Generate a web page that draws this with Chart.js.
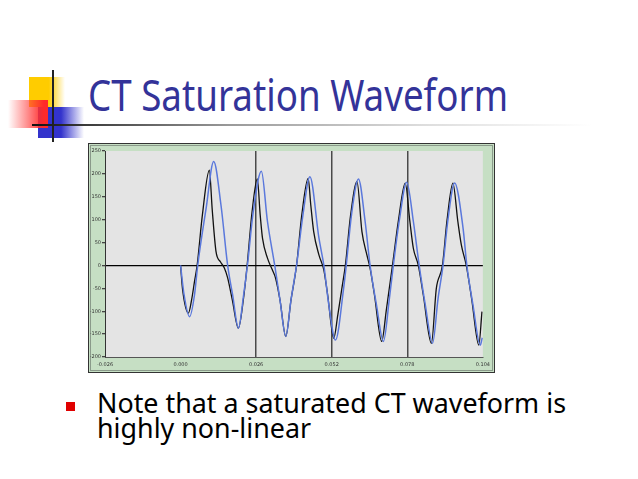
<!DOCTYPE html>
<html>
<head>
<meta charset="utf-8">
<script src="https://cdn.jsdelivr.net/npm/chart.js@4/dist/chart.umd.min.js"></script>
<style>
  body { margin: 0; background: #fff; width: 638px; height: 479px; position: relative; overflow: hidden; font-family: "Noto Sans", sans-serif; }
  .abs { position: absolute; }
  .txt { white-space: nowrap; line-height: 1; transform-origin: 0 0; display: inline-block; }
</style>
</head>
<body>
<!-- slide decoration -->
<div class="abs" style="left:29px;top:77px;width:36px;height:30px;background:linear-gradient(to right,#ffcc00 0%,#ffcc00 55%,rgba(255,204,0,0) 100%)"></div>
<div class="abs" style="left:38px;top:107px;width:46px;height:31px;background:linear-gradient(to right,#3333cc 0%,#3333cc 50%,rgba(51,51,204,0) 100%)"></div>
<div class="abs" style="left:8px;top:100px;width:40px;height:28px;background:linear-gradient(to right,rgba(255,90,90,0) 0%,rgba(255,60,60,0.6) 50%,#ff2a2a 90%)"></div>
<div class="abs" style="left:52px;top:70px;width:2px;height:72px;background:#222"></div>
<div class="abs" style="left:32px;top:124px;width:560px;height:2px;background:linear-gradient(to right,#111 0%,#444 12%,#999 35%,#ddd 70%,rgba(230,230,230,0) 100%)"></div>

<div id="title" class="abs txt" style="left:88px;top:72px;font-size:44px;color:#333399">CT Saturation Waveform</div>

<div class="abs" style="left:66px;top:402px;width:9px;height:9px;background:#e00000"></div>
<div id="b1" class="abs txt" style="left:97px;top:389px;font-size:27px;color:#000">Note that a saturated CT waveform is</div>
<div id="b2" class="abs txt" style="left:97px;top:414px;font-size:27px;color:#000">highly non-linear</div>

<canvas id="canvas1" width="407" height="230" style="position:absolute;left:88px;top:143px"></canvas>

<script>
const xTicks = [-0.026, 0, 0.026, 0.052, 0.078, 0.104]
const yMin = -200
const yMax = 250

// ideal (unsaturated) secondary current - blue
const blueT = [0, 0.0012, 0.0031, 0.0048, 0.0059, 0.0088, 0.0114, 0.0139, 0.0162, 0.0179,
  0.0199, 0.0217, 0.0230, 0.0250, 0.0278, 0.0299, 0.0324, 0.0342, 0.0362, 0.0380,
  0.0399, 0.0421, 0.0445, 0.0476, 0.0493, 0.0510, 0.0533, 0.0561, 0.0570, 0.0588,
  0.0612, 0.0635, 0.0652, 0.0674, 0.0698, 0.0718, 0.0732, 0.0753, 0.0778, 0.0801,
  0.0821, 0.0842, 0.0867, 0.0886, 0.0903, 0.0920, 0.0943, 0.0972, 0.0985, 0.1006,
  0.1031, 0.1038]
const blueI = [0, -64, -112, -64, 0, 125, 227, 132, 0, -64,
  -137, -64, 0, 117, 206, 96, 0, -75, -155, -75,
  0, 110, 194, 60, 0, -86, -163, -50, 0, 110,
  189, 96, 0, -86, -166, -75, 0, 100, 182, 96,
  0, -86, -170, -72, 0, 100, 180, 81, 0, -86,
  -174, -158]

// saturated CT secondary current - black
const blackT = [0, 0.0007, 0.0027, 0.0038, 0.0048, 0.0057,
  0.0075, 0.0099, 0.0109, 0.0122, 0.0137, 0.0151, 0.0162, 0.0178, 0.0199, 0.0216,
  0.0229, 0.0246, 0.0264, 0.0274, 0.0282, 0.0299, 0.0316, 0.0327, 0.0342, 0.0362,
  0.0380, 0.0399, 0.0417, 0.0439, 0.0448, 0.0458, 0.0476, 0.0493, 0.0506, 0.0527,
  0.0541, 0.0555, 0.0567, 0.0585, 0.0607, 0.0624, 0.0641, 0.0652, 0.0667, 0.0692,
  0.0708, 0.0729, 0.0750, 0.0773, 0.0789, 0.0801, 0.0818, 0.0835, 0.0863, 0.0880,
  0.0901, 0.0917, 0.0937, 0.0954, 0.0966, 0.0983, 0.1002, 0.1026, 0.1037]
const blackI = [0, -53, -104, -75, -35, 0,
  110, 208, 121, 30, 8, -6, -27, -75, -137, -75,
  0, 117, 189, 110, 59, 16, -10, -28, -75, -155,
  -75, 0, 110, 190, 132, 74, 23, -10, -64, -159,
  -108, -50, 0, 110, 183, 74, 23, -6, -64, -166,
  -97, 0, 100, 180, 96, 37, 0, -64, -170, -50,
  0, 100, 180, 96, 45, 0, -75, -174, -101]

// squeeze the text to the slide widths
const fit = (id, target) => {
  const el = document.getElementById(id)
  const w = el.getBoundingClientRect().width
  const s = target / w
  el.style.transform = 'scaleX(' + s + ')'
  return s
}
fit('title', 420)
const s = fit('b1', 469)
document.getElementById('b2').style.transform = 'scaleX(' + s + ')'

const pts = (t, v) => t.map((x, i) => ({ x, y: v[i] }))

const frame = {
  id: 'frame',
  beforeDraw(chart) {
    const c = chart.ctx
    const a = chart.chartArea
    c.save()
    c.fillStyle = '#c6dfc4'
    c.fillRect(0, 0, chart.width, chart.height)
    c.fillStyle = '#e4e4e4'
    c.fillRect(a.left, a.top, a.right - a.left, a.bottom - a.top)
    c.strokeStyle = '#333'
    c.lineWidth = 1
    c.strokeRect(0.5, 0.5, chart.width - 1, chart.height - 1)
    c.strokeStyle = '#8a9a8a'
    c.strokeRect(2.5, 2.5, chart.width - 5, chart.height - 5)
    c.restore()
  }
}

const ctx = document.getElementById('canvas1').getContext('2d')
const myChart = new Chart(ctx, {
  type: 'scatter',
  data: {
    datasets: [{
      data: pts(blueT, blueI),
      showLine: true,
      borderColor: '#5a78dc',
      borderWidth: 1.5,
      pointRadius: 0,
      cubicInterpolationMode: 'monotone'
    }, {
      data: pts(blackT, blackI),
      showLine: true,
      borderColor: '#111',
      borderWidth: 1.3,
      pointRadius: 0,
      cubicInterpolationMode: 'monotone'
    }]
  },
  options: {
    responsive: false,
    animation: false,
    devicePixelRatio: 1,
    layout: { padding: { top: 8, right: 10, left: 0, bottom: 0 } },
    plugins: { legend: { display: false }, tooltip: { enabled: false } },
    scales: {
      x: {
        type: 'linear',
        min: xTicks[0],
        max: xTicks[xTicks.length - 1],
        afterBuildTicks: axis => { axis.ticks = xTicks.map(v => ({ value: v })) },
        afterFit: axis => { axis.height = 16 },
        border: { display: true, color: '#555' },
        grid: {
          color: c => (c.tick && c.tick.value > 0.0001 && c.tick.value < 0.1) ? '#4a4a4a' : 'rgba(0,0,0,0)',
          lineWidth: 1.5,
          drawTicks: false
        },
        ticks: {
          padding: 5,
          maxRotation: 0,
          autoSkip: false,
          color: '#333',
          font: { family: 'DejaVu Sans', size: 5 },
          callback: v => v.toFixed(3)
        }
      },
      y: {
        min: yMin,
        max: yMax,
        afterFit: axis => { axis.width = 17 },
        border: { display: true, color: '#333' },
        grid: {
          color: c => (c.tick && c.tick.value === 0) ? '#000' : 'rgba(0,0,0,0)',
          lineWidth: 1.3,
          tickColor: '#444',
          tickLength: 3
        },
        ticks: {
          stepSize: 50,
          padding: 1,
          color: '#333',
          font: { family: 'DejaVu Sans', size: 5 }
        }
      }
    }
  },
  plugins: [frame]
})
</script>
</body>
</html>
